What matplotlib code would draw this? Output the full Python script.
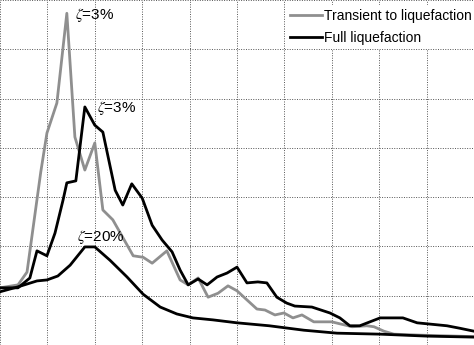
import matplotlib
matplotlib.use("Agg")
import matplotlib.pyplot as plt

plt.rcParams['font.family'] = ['Liberation Sans', 'DejaVu Sans']
plt.rcParams['mathtext.fontset'] = 'stix'

# Transient to liquefaction (zeta = 3%)
trans_x = [0, 0.38, 0.57, 0.86, 0.99, 1.20, 1.41, 1.58, 1.79, 2.00, 2.17, 2.38, 2.81, 3.02, 3.21,
           3.52, 3.80, 3.97, 4.18, 4.39, 4.60, 4.81, 5.00, 5.17, 5.42, 5.59, 5.80, 5.99, 6.18,
           6.37, 6.62, 7.00, 7.17, 7.43, 7.74, 7.89, 8.10, 8.31, 8.86, 10.0]
trans_y = [1.16, 1.22, 1.48, 3.51, 4.30, 4.91, 6.73, 4.22, 3.55, 4.10, 2.74, 2.54, 1.81, 1.78, 1.66,
           1.91, 1.32, 1.22, 1.36, 0.97, 1.05, 1.20, 1.10, 0.95, 0.73, 0.71, 0.61, 0.65, 0.55,
           0.61, 0.47, 0.47, 0.43, 0.37, 0.39, 0.37, 0.28, 0.22, 0.20, 0.17]

# Full liquefaction (zeta = 3%)
full_x = [0, 0.38, 0.63, 0.78, 0.99, 1.16, 1.33, 1.41, 1.60, 1.79, 2.00, 2.17, 2.43, 2.59, 2.78,
          3.00, 3.21, 3.42, 3.63, 3.80, 3.97, 4.18, 4.37, 4.58, 4.79, 5.00, 5.21, 5.44, 5.63,
          5.84, 6.05, 6.22, 6.58, 6.96, 7.17, 7.38, 7.59, 8.02, 8.50, 8.80, 9.43, 9.70, 10.0]
full_y = [1.16, 1.16, 1.36, 1.91, 1.81, 2.27, 2.94, 3.29, 3.33, 4.83, 4.46, 4.32, 3.14, 2.84, 3.27,
          2.98, 2.43, 2.13, 1.89, 1.52, 1.22, 1.34, 1.22, 1.38, 1.46, 1.58, 1.26, 1.28, 1.26,
          0.97, 0.85, 0.79, 0.77, 0.65, 0.55, 0.39, 0.39, 0.55, 0.55, 0.45, 0.39, 0.34, 0.28]

# Full liquefaction (zeta = 20%)
full20_x = [0, 0.38, 0.78, 0.99, 1.22, 1.48, 1.79, 2.00, 2.32, 2.68, 3.02, 3.38, 3.73, 4.07,
            4.49, 5.00, 5.68, 6.41, 7.11, 8.02, 9.01, 10.0]
full20_y = [1.08, 1.18, 1.30, 1.32, 1.40, 1.62, 1.99, 1.99, 1.72, 1.38, 1.03, 0.77, 0.63, 0.55,
            0.51, 0.45, 0.39, 0.30, 0.24, 0.22, 0.18, 0.16]

labels = ['Transient to liquefaction', 'Full liquefaction']
annotations = [(1.58, 6.69, r'$\zeta$=3%'), (2.05, 4.81, r'$\zeta$=3%'), (1.62, 2.19, r'$\zeta$=20%')]

fig = plt.figure(figsize=(4.74, 3.45), dpi=100)
ax = fig.add_axes([0, 0, 1, 1])
ax.set_xlim(0, 10)
ax.set_ylim(0, 7)
ax.set_xticks(range(0, 11))
ax.set_yticks(range(0, 8))
ax.grid(True, linestyle=(0, (1, 1.5)), color='#555555', linewidth=0.7)
for s in ax.spines.values():
    s.set_visible(False)
ax.tick_params(length=0, labelbottom=False, labelleft=False)

ax.plot(trans_x, trans_y, color='#8f8f8f', lw=2.0, label=labels[0], zorder=3)
ax.plot(full20_x, full20_y, color='black', lw=2.0, zorder=4)
ax.plot(full_x, full_y, color='black', lw=2.0, label=labels[1], zorder=4)

for x, y, t in annotations:
    ax.text(x, y, t, fontsize=11, ha='left', va='center', zorder=5)

leg = ax.legend(loc='upper left', bbox_to_anchor=(0.603, 0.985), fontsize=10, frameon=True,
                handlelength=2.3, handletextpad=0.15, borderpad=0.3, borderaxespad=0,
                labelspacing=0.55)
leg.get_frame().set_facecolor('white')
leg.get_frame().set_edgecolor('none')
leg.get_frame().set_alpha(1)
leg.get_frame().set_boxstyle('square', pad=0)

fig.savefig('out.png', dpi=100)
